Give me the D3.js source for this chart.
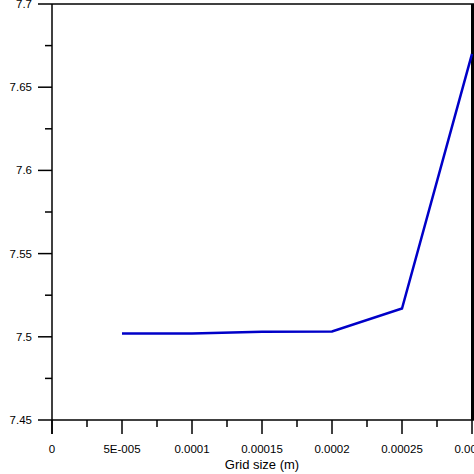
<!DOCTYPE html><html><head><script src="https://cdn.jsdelivr.net/npm/d3@7"></script>
<style>body{margin:0;background:#fff}svg{display:block}</style></head><body><svg width="474" height="474"></svg>
<script>
const xValues=[0.00005,0.0001,0.00015,0.0002,0.00025,0.0003];
const yValues=[7.502,7.502,7.503,7.5032,7.517,7.67];
const xTicks=[0,0.00005,0.0001,0.00015,0.0002,0.00025,0.0003];
const xTickLabels=["0","5E-005","0.0001","0.00015","0.0002","0.00025","0.0003"];
const yTicks=[7.45,7.5,7.55,7.6,7.65,7.7];
const yTickLabels=["7.45","7.5","7.55","7.6","7.65","7.7"];
const svg=d3.select("svg");
const x=d3.scaleLinear().domain([0,0.0003]).range([52,472]);
const y=d3.scaleLinear().domain([7.45,7.7]).range([420,4]);
const font="Arial, Liberation Sans, sans-serif";
svg.append("line").attr("x1",52).attr("x2",474).attr("y1",4).attr("y2",4).attr("stroke","#000").attr("stroke-width",1.5);
svg.append("line").attr("x1",472.5).attr("x2",472.5).attr("y1",4).attr("y2",420).attr("stroke","#000").attr("stroke-width",3);
const xa=svg.append("g").attr("transform","translate(0,420)");
xa.append("line").attr("x1",52).attr("x2",474).attr("stroke","#000").attr("stroke-width",1.5);
const minorX=d3.range(0,13).map(i=>i*0.000025);
xa.selectAll(".mx").data(minorX).join("line").attr("x1",d=>x(d)).attr("x2",d=>x(d)).attr("y1",0).attr("y2",(d,i)=>i%2?7:14).attr("stroke","#000").attr("stroke-width",1.5);
xa.selectAll("text").data(xTicks).join("text").attr("x",d=>x(d)).attr("y",33).attr("text-anchor","middle").attr("font-family",font).attr("font-size",11.5).text((d,i)=>xTickLabels[i]);
svg.append("text").attr("x",262).attr("y",469).attr("text-anchor","middle").attr("font-family",font).attr("font-size",13).text("Grid size (m)");
const ya=svg.append("g");
ya.append("line").attr("x1",52).attr("x2",52).attr("y1",4).attr("y2",434).attr("stroke","#000").attr("stroke-width",1.5);
const minorY=d3.range(0,11).map(i=>7.45+i*0.025);
ya.selectAll(".my").data(minorY).join("line").attr("x1",(d,i)=>i%2?45:38).attr("x2",52).attr("y1",d=>y(d)).attr("y2",d=>y(d)).attr("stroke","#000").attr("stroke-width",1.5);
ya.selectAll("text").data(yTicks).join("text").attr("x",32).attr("y",d=>y(d)+4).attr("text-anchor","end").attr("font-family",font).attr("font-size",11.5).text((d,i)=>yTickLabels[i]);
svg.append("path").datum(xValues.map((d,i)=>[d,yValues[i]])).attr("fill","none").attr("stroke","#0000c8").attr("stroke-width",2.5)
 .attr("d",d3.line().x(d=>x(d[0])).y(d=>y(d[1])));
</script></body></html>
